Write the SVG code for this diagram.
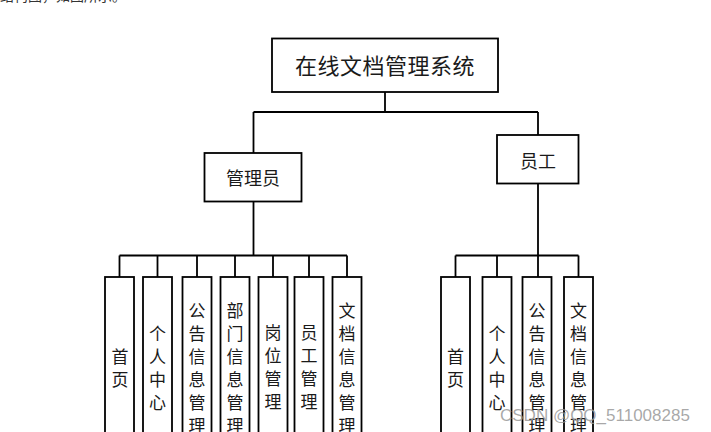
<svg xmlns="http://www.w3.org/2000/svg" width="711" height="432" viewBox="0 0 711 432">
<style>
.box{fill:#fff;stroke:#000;stroke-width:1.8}
.ln{fill:none;stroke:#000;stroke-width:1.8}
.t{font-family:"Noto Sans CJK SC","Noto Sans",sans-serif;fill:#1a1a1a;text-anchor:middle;dominant-baseline:central}
.c{font-size:17px}
</style>
<rect width="711" height="432" fill="#fff"/>
<text x="0" y="1" font-family="'Noto Sans CJK SC',sans-serif" font-size="14" fill="#333">结构图，如图所示。</text>
<g id="connectors">
<path class="ln" d="M385,92V112M253.5,112H538M253.5,112V153M538,112V135"/>
<path class="ln" d="M253.5,201.5V255.5M119.5,255.5H347M119.5,255.5V277M157.5,255.5V277M197,255.5V277M235,255.5V277M273,255.5V277M309,255.5V277M347,255.5V277"/>
<path class="ln" d="M538,183.5V255.5M455.5,255.5H578.5M455.5,255.5V277M497,255.5V277M538,255.5V277M578.5,255.5V277"/>
</g>
<g id="root"><rect class="box" x="272" y="38.5" width="226" height="53.5"/><text class="t" x="385" y="64" font-size="22" letter-spacing="0.5">在线文档管理系统</text></g>
<g id="admin"><rect class="box" x="204.5" y="153" width="97" height="48.5"/><text class="t" x="253" y="177" font-size="18">管理员</text></g>
<g id="staff"><rect class="box" x="497" y="135" width="81.5" height="48.5"/><text class="t" x="538" y="159.5" font-size="18">员工</text></g>
<g id="a1"><rect class="box" x="105" y="277" width="29" height="170"/><text class="t c"><tspan x="120" y="355">首</tspan><tspan x="120" y="378">页</tspan></text></g>
<g id="a2"><rect class="box" x="143" y="277" width="29" height="170"/><text class="t c"><tspan x="157.5" y="332">个</tspan><tspan x="157.5" y="355">人</tspan><tspan x="157.5" y="378">中</tspan><tspan x="157.5" y="401">心</tspan></text></g>
<g id="a3"><rect class="box" x="182.5" y="277" width="29" height="170"/><text class="t c"><tspan x="197" y="309">公</tspan><tspan x="197" y="332">告</tspan><tspan x="197" y="355">信</tspan><tspan x="197" y="378">息</tspan><tspan x="197" y="401">管</tspan><tspan x="197" y="424">理</tspan></text></g>
<g id="a4"><rect class="box" x="220.5" y="277" width="29" height="170"/><text class="t c"><tspan x="235" y="309">部</tspan><tspan x="235" y="332">门</tspan><tspan x="235" y="355">信</tspan><tspan x="235" y="378">息</tspan><tspan x="235" y="401">管</tspan><tspan x="235" y="424">理</tspan></text></g>
<g id="a5"><rect class="box" x="258.5" y="277" width="29" height="170"/><text class="t c"><tspan x="273" y="331">岗</tspan><tspan x="273" y="354">位</tspan><tspan x="273" y="377">管</tspan><tspan x="273" y="400">理</tspan></text></g>
<g id="a6"><rect class="box" x="294.5" y="277" width="29" height="170"/><text class="t c"><tspan x="309" y="331">员</tspan><tspan x="309" y="354">工</tspan><tspan x="309" y="377">管</tspan><tspan x="309" y="400">理</tspan></text></g>
<g id="a7"><rect class="box" x="332.5" y="277" width="29" height="170"/><text class="t c"><tspan x="347" y="309">文</tspan><tspan x="347" y="332">档</tspan><tspan x="347" y="355">信</tspan><tspan x="347" y="378">息</tspan><tspan x="347" y="401">管</tspan><tspan x="347" y="424">理</tspan></text></g>
<g id="s1"><rect class="box" x="441" y="277" width="29" height="170"/><text class="t c"><tspan x="455.5" y="355">首</tspan><tspan x="455.5" y="378">页</tspan></text></g>
<g id="s2"><rect class="box" x="482.5" y="277" width="29" height="170"/><text class="t c"><tspan x="497" y="332">个</tspan><tspan x="497" y="355">人</tspan><tspan x="497" y="378">中</tspan><tspan x="497" y="401">心</tspan></text></g>
<g id="s3"><rect class="box" x="522.5" y="277" width="29" height="170"/><text class="t c"><tspan x="537" y="309">公</tspan><tspan x="537" y="332">告</tspan><tspan x="537" y="355">信</tspan><tspan x="537" y="378">息</tspan><tspan x="537" y="401">管</tspan><tspan x="537" y="424">理</tspan></text></g>
<g id="s4"><rect class="box" x="564" y="277" width="29" height="170"/><text class="t c"><tspan x="578.5" y="309">文</tspan><tspan x="578.5" y="332">档</tspan><tspan x="578.5" y="355">信</tspan><tspan x="578.5" y="378">息</tspan><tspan x="578.5" y="401">管</tspan><tspan x="578.5" y="424">理</tspan></text></g>
<text x="500" y="420.5" font-family="'Liberation Sans',Arial,sans-serif" font-size="17" fill="#999" fill-opacity="0.85">CSDN @QQ_511008285</text>
</svg>
